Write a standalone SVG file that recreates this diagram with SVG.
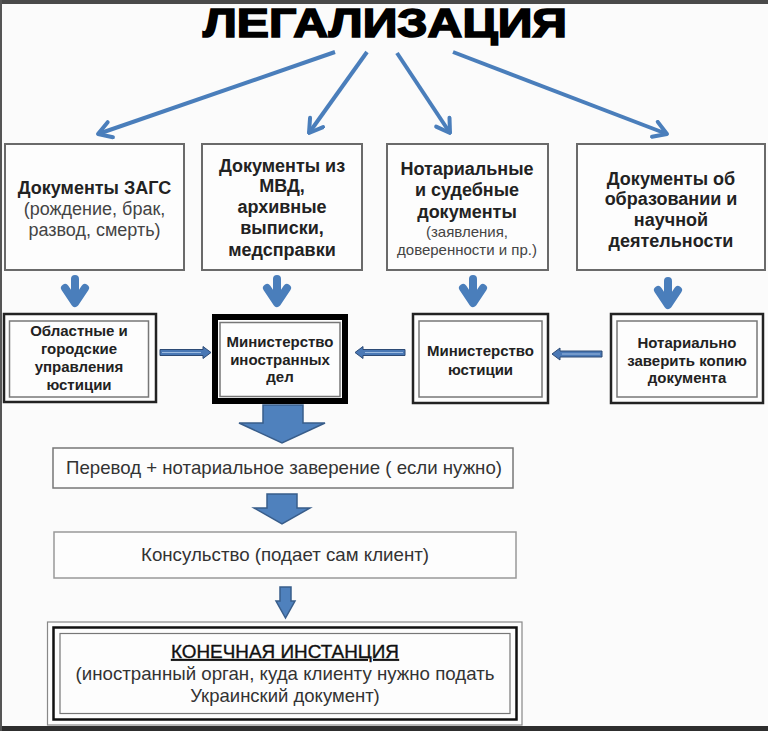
<svg xmlns="http://www.w3.org/2000/svg" width="768" height="731" viewBox="0 0 768 731">
<defs>
<marker id="chev" markerUnits="userSpaceOnUse" viewBox="0 0 20 20" refX="18" refY="10" markerWidth="20" markerHeight="20" orient="auto">
<path d="M5,2 L18,10 L5,18" fill="none" stroke="#4a7ebb" stroke-width="4" stroke-linecap="round" stroke-linejoin="round"/>
</marker>
<style>
text{font-family:"Liberation Sans",Arial,sans-serif;text-anchor:middle}
.t1{font-size:18px;font-weight:bold;fill:#222}
.t1n{font-size:18px;fill:#444}
.t1s{font-size:15px;fill:#444}
.t2{font-size:15px;font-weight:bold;fill:#222}
.t3{font-size:18.5px;fill:#333}
.head{fill:#111;stroke:#111;stroke-width:0.35}
.box{fill:#fdfdfd;stroke:#6a6a6a;stroke-width:2}
.outer{fill:#fdfdfd;stroke:#222;stroke-width:2.5}
.inner{fill:none;stroke:#777;stroke-width:1.5}
.thin{stroke:#4a7ebb;stroke-width:4;fill:none;marker-end:url(#chev)}
.down{stroke:#4a7ebb;stroke-width:8;fill:none;stroke-linecap:round;stroke-linejoin:round}
.harr{fill:#4a78b5;stroke:#2c4a75;stroke-width:1}
.hline{stroke:#9dbbe0;stroke-width:1}
.block{fill:#4f81bd;stroke:#385d8a;stroke-width:1.5}
</style>
</defs>
<rect x="0" y="0" width="768" height="731" fill="#fbfbfb"/>
<rect x="0" y="0" width="768" height="4" fill="#4a4a4a"/>
<rect x="0" y="726" width="768" height="5" fill="#2e2e2e"/>
<rect x="0" y="0" width="2" height="731" fill="#555"/>

<g id="title">
<text x="385" y="37" font-size="40" font-weight="bold" fill="#000" stroke="#000" stroke-width="1.6" textLength="364" lengthAdjust="spacingAndGlyphs">ЛЕГАЛИЗАЦИЯ</text>
</g>

<g id="connectors">
<line class="thin" x1="335" y1="52" x2="98" y2="134"/>
<line class="thin" x1="367" y1="52" x2="309" y2="133"/>
<line class="thin" x1="397" y1="53" x2="450" y2="133"/>
<line class="thin" x1="453" y1="52" x2="667" y2="134"/>

<path class="down" d="M75,279 L75,300 M65,288 L75,303 L85,288"/>
<path class="down" d="M277,279 L277,300 M267,288 L277,303 L287,288"/>
<path class="down" d="M473,279 L473,300 M463,288 L473,303 L483,288"/>
<path class="down" d="M668,281 L668,302 M658,290 L668,305 L678,290"/>

<polygon class="harr" points="160,349.5 203,349.5 203,346.5 211,352.5 203,358.5 203,355.5 160,355.5"/>
<line class="hline" x1="162" y1="352.5" x2="201" y2="352.5"/>
<polygon class="harr" points="405,349.5 363,349.5 363,346.5 355,352.5 363,358.5 363,355.5 405,355.5"/>
<line class="hline" x1="365" y1="352.5" x2="403" y2="352.5"/>
<polygon class="harr" points="602,351 560,351 560,348 552,354 560,360 560,357 602,357"/>
<line class="hline" x1="562" y1="354" x2="600" y2="354"/>

<polygon class="block" points="263,405 303,405 303,423 325,423 282,443 239,423 263,423"/>
<polygon class="block" points="267,494 297,494 297,508 310,508 282,524 254,508 267,508"/>
<polygon class="block" points="280,587 291,587 291,601 295,601 285.5,618 276,601 280,601"/>
</g>

<g id="n-zags">
<rect class="box" x="5" y="144" width="179" height="126"/>
<text class="t1" x="94.5" y="194">Документы ЗАГС</text>
<text class="t1n" x="94.5" y="215">(рождение, брак,</text>
<text class="t1n" x="94.5" y="236">развод, смерть)</text>
</g>

<g id="n-mvd">
<rect class="box" x="202" y="144" width="160" height="126"/>
<text class="t1" x="282" y="172">Документы из</text>
<text class="t1" x="282" y="192">МВД,</text>
<text class="t1" x="282" y="213">архивные</text>
<text class="t1" x="282" y="234">выписки,</text>
<text class="t1" x="282" y="256">медсправки</text>
</g>

<g id="n-notar">
<rect class="box" x="387" y="144" width="161" height="126"/>
<text class="t1" x="467" y="175">Нотариальные</text>
<text class="t1" x="467" y="196">и судебные</text>
<text class="t1" x="467" y="218">документы</text>
<text class="t1s" x="467" y="237">(заявления,</text>
<text class="t1s" x="467" y="255">доверенности и пр.)</text>
</g>

<g id="n-edu">
<rect class="box" x="577" y="144" width="188" height="126"/>
<text class="t1" x="671" y="185">Документы об</text>
<text class="t1" x="671" y="205">образовании и</text>
<text class="t1" x="671" y="226">научной</text>
<text class="t1" x="671" y="247">деятельности</text>
</g>

<g id="n-oblast">
<rect class="outer" x="4" y="314" width="152" height="88"/>
<rect class="inner" x="9.5" y="321" width="139" height="76"/>
<text class="t2" x="79" y="336">Областные и</text>
<text class="t2" x="79" y="354">городские</text>
<text class="t2" x="79" y="372">управления</text>
<text class="t2" x="79" y="390">юстиции</text>
</g>

<g id="n-mid">
<rect x="215" y="317" width="130" height="84" fill="#fdfdfd" stroke="#000" stroke-width="6"/>
<rect class="inner" x="220" y="322.5" width="120" height="74"/>
<text class="t2" x="280" y="347">Министерство</text>
<text class="t2" x="280" y="365">иностранных</text>
<text class="t2" x="280" y="382">дел</text>
</g>

<g id="n-minjust">
<rect class="outer" x="413" y="314" width="135" height="89"/>
<rect class="inner" x="419" y="321" width="123" height="76"/>
<text class="t2" x="480.5" y="356">Министерство</text>
<text class="t2" x="480.5" y="375">юстиции</text>
</g>

<g id="n-copy">
<rect class="outer" x="611" y="314" width="152" height="89"/>
<rect class="inner" x="617" y="321" width="140" height="76"/>
<text class="t2" x="687" y="348">Нотариально</text>
<text class="t2" x="687" y="366">заверить копию</text>
<text class="t2" x="687" y="383">документа</text>
</g>

<g id="n-translate">
<rect x="53" y="448" width="460" height="40" fill="#fdfdfd" stroke="#777" stroke-width="1.5"/>
<text class="t3" x="284" y="474" textLength="436" lengthAdjust="spacingAndGlyphs">Перевод + нотариальное заверение ( если нужно)</text>
</g>

<g id="n-consul">
<rect x="54" y="532" width="462" height="46" fill="#fdfdfd" stroke="#999" stroke-width="1.5"/>
<text class="t3" x="285" y="561" textLength="288" lengthAdjust="spacingAndGlyphs">Консульство (подает сам клиент)</text>
</g>

<g id="n-final">
<rect x="47.5" y="622" width="474.5" height="103" fill="#fdfdfd" stroke="#888" stroke-width="1.2"/>
<rect x="53.5" y="627.5" width="463" height="92" fill="none" stroke="#111" stroke-width="2.5"/>
<rect x="60" y="633.5" width="450" height="80" fill="none" stroke="#777" stroke-width="1.2"/>
<text class="t3 head" x="285" y="658" text-decoration="underline" textLength="228" lengthAdjust="spacingAndGlyphs">КОНЕЧНАЯ ИНСТАНЦИЯ</text>
<text class="t3" x="285" y="680" textLength="419" lengthAdjust="spacingAndGlyphs">(иностранный орган, куда клиенту нужно подать</text>
<text class="t3" x="285" y="702">Украинский документ)</text>
</g>
</svg>
